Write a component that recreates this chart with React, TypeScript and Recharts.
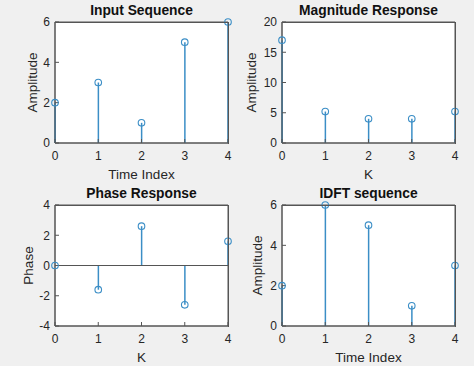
import { ComposedChart, Bar, Line, XAxis, YAxis, ReferenceLine, ReferenceArea } from 'recharts';

const indices = [0, 1, 2, 3, 4];
const inputSequence = [2, 3, 1, 5, 6];
const magnitude = [17, 5.2, 4.0, 4.0, 5.2];
const phase = [0, -1.6, 2.6, -2.6, 1.6];
const idftSequence = [2, 6, 5, 1, 3];

const xTicks = [0, 1, 2, 3, 4];
const amplitudeTicks = [0, 2, 4, 6];
const magnitudeTicks = [0, 5, 10, 15, 20];
const phaseTicks = [-4, -2, 0, 2, 4];

const STEM = '#3b8ec6';
const AXIS = '#555555';
const TEXT = '#262626';
const FONT = '"Liberation Sans", Arial, sans-serif';

// every subplot is 237x183; the axes box sits 22px below the top and is 121px tall
const PLOT_TOP = 22;
const PLOT_HEIGHT = 121;

type StemProps = {
  values: number[];
  yTicks: number[];
  title: string;
  xLabel: string;
  yLabel: string;
  yLabelDx: number;
  left: number;
  top: number;
  yAxisWidth: number;
  rightGap: number;
  baseline?: boolean;
};

function StemPlot({ values, yTicks, title, xLabel, yLabel, yLabelDx, left, top, yAxisWidth, rightGap, baseline }: StemProps) {
  const data = indices.map((k, i) => ({ k, v: values[i] }));
  const yMin = yTicks[0];
  const yMax = yTicks[yTicks.length - 1];
  const plotWidth = 237 - yAxisWidth - rightGap;
  const tickFont = { fontSize: 12, fill: TEXT, fontFamily: FONT };

  return (
    <div style={{ position: 'absolute', left, top, width: 237, height: 183 }}>
      <div
        style={{
          position: 'absolute',
          left: yAxisWidth,
          top: PLOT_TOP,
          width: plotWidth,
          height: PLOT_HEIGHT,
          background: '#ffffff',
        }}
      />
      <div
        style={{
          position: 'absolute',
          left: yAxisWidth,
          top: 0,
          width: plotWidth,
          textAlign: 'center',
          fontFamily: FONT,
          fontWeight: 'bold',
          fontSize: 13.8,
          lineHeight: '22px',
          color: '#111',
          whiteSpace: 'nowrap',
        }}
      >
        {title}
      </div>
      <div style={{ position: 'absolute', left: 0, top: 0, background: 'transparent' }}>
        <ComposedChart
          width={237}
          height={183}
          data={data}
          margin={{ top: PLOT_TOP, right: rightGap, bottom: 0, left: 0 }}
        >
          <ReferenceArea x1={0} x2={4} y1={yMin} y2={yMax} fill="none" stroke={AXIS} strokeWidth={1} ifOverflow="visible" />
          <XAxis
            dataKey="k"
            type="number"
            domain={[0, 4]}
            ticks={xTicks}
            height={183 - PLOT_TOP - PLOT_HEIGHT}
            stroke={AXIS}
            tickSize={-4}
            tickMargin={12}
            tick={tickFont}
            label={{ value: xLabel, position: 'center', dy: 11, fontSize: 13.5, fill: TEXT, fontFamily: FONT }}
          />
          <YAxis
            type="number"
            domain={[yMin, yMax]}
            ticks={yTicks}
            width={yAxisWidth}
            stroke={AXIS}
            tickSize={-4}
            tickMargin={9}
            tick={tickFont}
            label={{ value: yLabel, angle: -90, position: 'center', dx: yLabelDx, fontSize: 13.5, fill: TEXT, fontFamily: FONT }}
          />
          {baseline && <ReferenceLine y={0} stroke={AXIS} strokeWidth={1.2} />}
          <Bar dataKey="v" barSize={1.5} fill={STEM} isAnimationActive={false} />
          <Line
            dataKey="v"
            stroke="none"
            dot={{ r: 3.3, fill: 'none', stroke: STEM, strokeWidth: 1.1 }}
            activeDot={false}
            isAnimationActive={false}
          />
        </ComposedChart>
      </div>
      {/* frame drawn over the chart so the top and right edges show */}
      <div
        style={{
          position: 'absolute',
          left: yAxisWidth,
          top: PLOT_TOP,
          width: plotWidth + 1,
          height: PLOT_HEIGHT + 1,
          borderTop: `1px solid ${AXIS}`,
          borderRight: `1px solid ${AXIS}`,
          boxSizing: 'border-box',
          pointerEvents: 'none',
        }}
      />
    </div>
  );
}

export default function App() {
  return (
    <div style={{ position: 'absolute', left: 0, top: 0, width: 474, height: 366, background: '#f0f0f0', overflow: 'hidden' }}>
      <StemPlot values={inputSequence} yTicks={amplitudeTicks} title="Input Sequence" xLabel="Time Index" yLabel="Amplitude" yLabelDx={4.5} left={0} top={0} yAxisWidth={55} rightGap={9} />
      <StemPlot values={magnitude} yTicks={magnitudeTicks} title="Magnitude Response" xLabel="K" yLabel="Amplitude" yLabelDx={-8.5} left={237} top={0} yAxisWidth={45} rightGap={19} />
      <StemPlot values={phase} yTicks={phaseTicks} title="Phase Response" xLabel="K" yLabel="Phase" yLabelDx={0.5} left={0} top={183} yAxisWidth={55} rightGap={9} baseline />
      <StemPlot values={idftSequence} yTicks={amplitudeTicks} title="IDFT sequence" xLabel="Time Index" yLabel="Amplitude" yLabelDx={-1.8} left={237} top={183} yAxisWidth={45} rightGap={19} />
    </div>
  );
}
